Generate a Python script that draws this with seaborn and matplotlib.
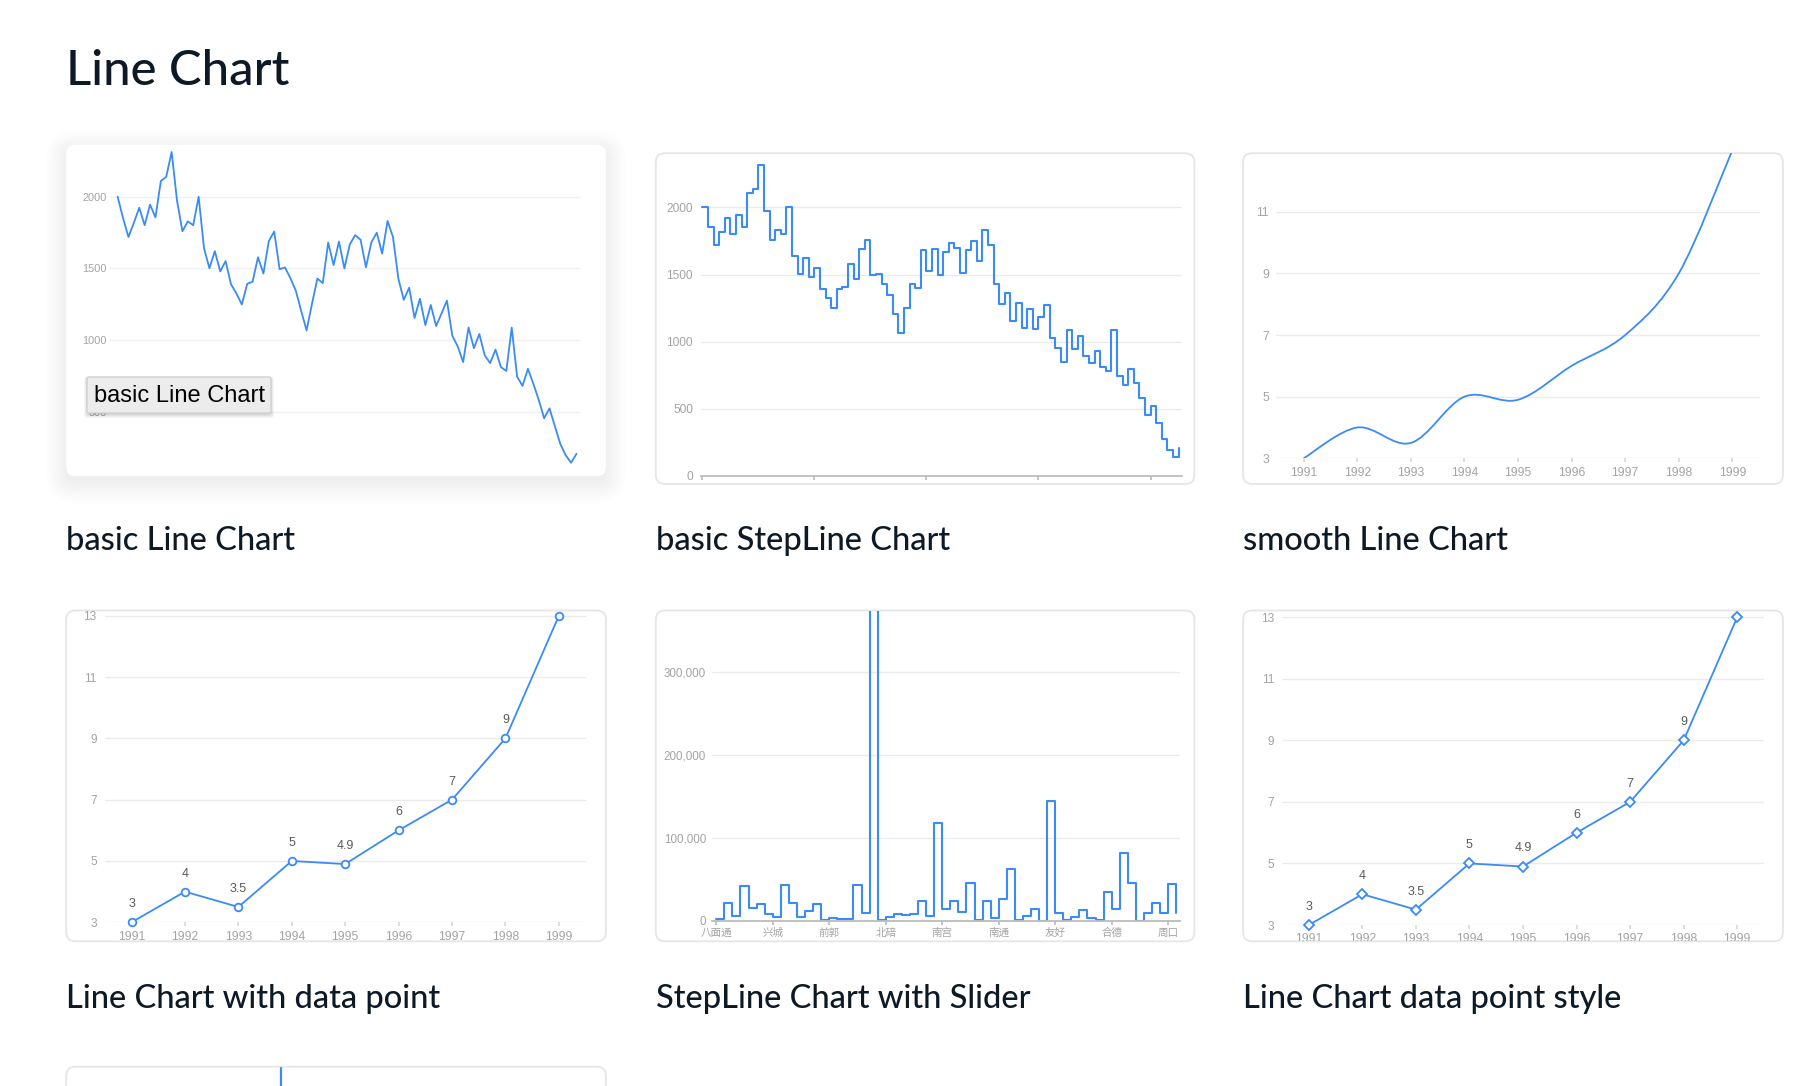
import numpy as np
import pandas as pd
import matplotlib
matplotlib.use("Agg")
import matplotlib.pyplot as plt
import seaborn as sns
from matplotlib.patches import FancyBboxPatch, PathPatch
from matplotlib.path import Path
from matplotlib.transforms import Bbox, TransformedBbox

# ---- data ----
sales = [2000, 1851, 1719, 1818, 1923, 1801, 1945, 1856, 2109, 2139, 2312, 1972, 1759, 1828,
         1801, 2000, 1640, 1501, 1620, 1479, 1551, 1389, 1325, 1248, 1392, 1407, 1578, 1464,
         1690, 1757, 1494, 1506, 1432, 1345, 1203, 1067, 1253, 1429, 1397, 1680, 1523, 1687,
         1499, 1667, 1732, 1700, 1508, 1682, 1749, 1603, 1831, 1719, 1429, 1280, 1365, 1154,
         1288, 1104, 1245, 1097, 1186, 1275, 1030, 955, 846, 1087, 943, 1042, 893, 839, 933,
         811, 784, 1087, 744, 680, 799, 695, 583, 454, 523, 397, 275, 196, 144, 206]

years = [1991, 1992, 1993, 1994, 1995, 1996, 1997, 1998, 1999]
year_values = [3, 4, 3.5, 5, 4.9, 6, 7, 9, 13]

cities = ["八面通", "公主岭", "六安", "兰州", "兰溪", "共青城", "兴义", "兴城", "兴宁", "兴平",
          "内江", "冷水江", "凌海", "凤城", "前郭", "勐海", "包头", "化州", "化德", "北京",
          "北安", "北碚", "北票", "华阴", "华蓥", "南京", "南宁", "南安", "南宫", "南康",
          "南昌", "南江", "南溪", "南漳", "南皮", "南通", "南阳", "南雄", "博乐", "卫辉",
          "即墨", "原平", "友好", "双鸭山", "古交", "台州", "台山", "叶县", "合川", "合德",
          "合肥", "吉林", "吉首", "吐鲁番", "含山", "吴川", "周口", "和田"]
city_values = [2000, 20900, 5600, 42200, 14900, 20500, 8000, 4800, 43000, 20900,
               4400, 11600, 20500, 500, 3600, 1600, 1600, 42600, 8800, 420000,
               300, 4800, 7600, 6400, 8000, 23300, 5600, 117700, 14500, 23700,
               10800, 45800, 400, 23700, 2800, 26100, 61800, 300, 6000, 13700,
               200, 144200, 9200, 400, 4400, 12900, 2800, 800, 34500, 14100,
               81900, 45800, 100, 8800, 21700, 8800, 44600, 9600]

card_titles = ["basic Line Chart", "basic StepLine Chart", "smooth Line Chart",
               "Line Chart with data point", "StepLine Chart with Slider", "Line Chart data point style"]

sales_df = pd.DataFrame({"idx": np.arange(len(sales)), "value": sales})
year_df = pd.DataFrame({"year": years, "value": year_values})
city_df = pd.DataFrame({"idx": np.arange(len(cities)), "city": cities, "value": city_values})

BLUE = "#3a8bf7"
GRID = "#ebebeb"
LABEL = "#a3a3a3"
TITLE = "#0d1a26"

sns.set_theme(style="white")
plt.rcParams["font.family"] = ["Lato", "Noto Sans CJK SC", "DejaVu Sans"]
NUM_FONT = ["Liberation Sans", "Noto Sans CJK SC", "DejaVu Sans"]

W, H = 1820, 1086
fig = plt.figure(figsize=(W / 100, H / 100), dpi=100)
fig.patch.set_facecolor("white")

bg = fig.add_axes([0, 0, 1, 1])
bg.set_xlim(0, W)
bg.set_ylim(H, 0)
bg.axis("off")


def px_axes(x0, y0, x1, y1):
    ax = fig.add_axes([x0 / W, 1 - y1 / H, (x1 - x0) / W, (y1 - y0) / H])
    ax.patch.set_alpha(0)
    for s in ax.spines.values():
        s.set_visible(False)
    return ax


def clip_box(b):
    x0, y0, x1, y1 = b
    return TransformedBbox(Bbox.from_extents(x0 / W, 1 - y1 / H, x1 / W, 1 - y0 / H), fig.transFigure)


def card(x0, y0, x1, y1, border=True):
    p = FancyBboxPatch((x0, y0), x1 - x0, y1 - y0, boxstyle="round,pad=0,rounding_size=9",
                       fc="white", ec="#e6e6e6" if border else "none", lw=1.3, zorder=2)
    bg.add_patch(p)
    return p


def style(ax, fs=8, pad=5):
    ax.grid(axis="y", color=GRID, lw=1)
    ax.grid(axis="x", visible=False)
    ax.tick_params(axis="y", length=0, pad=pad, labelsize=fs, labelcolor=LABEL)
    ax.set_xlabel("")
    ax.set_ylabel("")
    for lbl in ax.get_yticklabels():
        lbl.set_fontfamily(NUM_FONT)


# page title
bg.text(66.2, 84.7, "Line Chart", fontsize=35.3, color=TITLE, fontweight="medium", va="baseline")

# card boxes
boxes = [(66.2, 145, 605.9, 476), (655.8, 153.2, 1194.4, 484), (1243.1, 153.2, 1782.9, 484),
         (66.2, 610.5, 605.9, 941.3), (655.8, 610.5, 1194.4, 941.3), (1243.1, 610.5, 1782.9, 941.3)]

# hover shadow around the first card
x0, y0, x1, y1 = boxes[0]
for i in range(16):
    bg.add_patch(FancyBboxPatch((x0, y0 + 6), x1 - x0, y1 - y0,
                                boxstyle=f"round,pad={i * 1.4},rounding_size={9 + i * 1.4}",
                                fc="#1a2f6e", ec="none", alpha=0.0045, zorder=1))

for i, b in enumerate(boxes):
    card(*b, border=(i != 0))

for i, b in enumerate(boxes):
    base = 550.2 if i < 3 else 1007.5
    bg.text(b[0], base, card_titles[i], fontsize=23.5, color=TITLE, fontweight="medium", va="baseline")

# third-row card, only its top is visible
bg.add_patch(FancyBboxPatch((66.2, 1066.7), 539.7, 60, boxstyle="round,pad=0,rounding_size=9",
                            fc="white", ec="#e6e6e6", lw=1.3, zorder=2))
bg.plot([280.9, 280.9], [1067.5, 1086], color=BLUE, lw=1.6, zorder=3)

# ---- 1. basic line chart ----
ax1 = px_axes(109.5, 145, 579.9, 476)
sns.lineplot(data=sales_df, x="idx", y="value", ax=ax1, color=BLUE, lw=1.3)
ax1.set_xlim(-1.51, 85.63)
ax1.set_ylim(51, 2361)
ax1.set_yticks([500, 1000, 1500, 2000])
ax1.set_xticks([])
style(ax1, fs=7.9, pad=2)
ax1.grid(axis="y", color="#eef0f3", lw=1)

# ---- 2. basic step line ----
ax2 = px_axes(700.6, 153.2, 1181.9, 476)
sns.lineplot(data=sales_df, x="idx", y="value", ax=ax2, color=BLUE, lw=1.5, drawstyle="steps-post")
ax2.set_xlim(-0.32, 85.6)
ax2.set_ylim(0, 2403)
ax2.set_yticks([0, 500, 1000, 1500, 2000])
ax2.set_xticks(sales_df["idx"][::20])
style(ax2, fs=8.6, pad=5.5)
ax2.spines["bottom"].set_visible(True)
ax2.spines["bottom"].set_color("#bcbcbc")
ax2.tick_params(axis="x", length=3, color="#bcbcbc", labelbottom=False, bottom=True)

# ---- 3. smooth line ----
ax3 = px_axes(1276.4, 153.2, 1759.7, 458.3)
pts = np.column_stack([years, year_values]).astype(float)
ext = np.vstack([pts[0], pts, pts[-1]])
verts, codes = [pts[0]], [Path.MOVETO]
for i in range(len(pts) - 1):
    p0, p1, p2, p3 = ext[i], ext[i + 1], ext[i + 2], ext[i + 3]
    verts += [p1 + (p2 - p0) / 6, p2 - (p3 - p1) / 6, p2]
    codes += [Path.CURVE4] * 3
ax3.add_patch(PathPatch(Path(verts, codes), fill=False, ec=BLUE, lw=1.3))
ax3.set_xlim(1990.49, 1999.51)
ax3.set_ylim(3, 12.9)
ax3.set_yticks([3, 5, 7, 9, 11])
ax3.set_xticks(years)
style(ax3, fs=8.7, pad=5.3)
ax3.tick_params(axis="x", length=3, color="#d9d9d9", bottom=True, pad=3,
                labelsize=8.7, labelcolor=LABEL)
for lbl in ax3.get_xticklabels():
    lbl.set_fontfamily(NUM_FONT)


# ---- 4 & 6. line with data points ----
def point_chart(box, card_box, ylim, marker, msize):
    ax = px_axes(*box)
    sns.lineplot(data=year_df, x="year", y="value", ax=ax, color=BLUE, lw=1.3, marker=marker,
                 markersize=msize, markerfacecolor="white", markeredgecolor=BLUE,
                 markeredgewidth=1.3, clip_on=False)
    ax.set_xlim(1990.5, 1999.5)
    ax.set_ylim(*ylim)
    ax.set_yticks([3, 5, 7, 9, 11, 13])
    ax.set_xticks(years)
    style(ax, fs=8.6, pad=5.8)
    ax.tick_params(axis="x", length=3, color="#d9d9d9", bottom=True, pad=3,
                   labelsize=8.7, labelcolor=LABEL)
    cb = clip_box(card_box)
    for lbl in ax.get_xticklabels():
        lbl.set_fontfamily(NUM_FONT)
        lbl.set_clip_box(cb)
        lbl.set_clip_on(True)
    for x, v in zip(years, year_values):
        t = ax.annotate(f"{v:g}", (x, v), xytext=(0, 13), textcoords="offset points",
                        ha="center", va="center", fontsize=9, color="#595959",
                        fontfamily=NUM_FONT, annotation_clip=False)
        t.set_clip_box(cb)
        t.set_clip_on(True)
    return ax


ax4 = point_chart((104.8, 610.5, 585.6, 922.3), boxes[3], (3, 13.17), "o", 5.5)
ax6 = point_chart((1282.0, 610.5, 1764.0, 925), boxes[5], (3, 13.22), "D", 5.5)

# ---- 5. step line with slider ----
ax5 = px_axes(712.0, 610.5, 1180.3, 920.7)
sns.lineplot(data=city_df, x="idx", y="value", ax=ax5, color=BLUE, lw=1.5, drawstyle="steps-post")
ax5.set_xlim(-0.53, 57.5)
ax5.set_ylim(0, 373700)
yt = [0, 100000, 200000, 300000]
ax5.set_yticks(yt)
ax5.set_yticklabels([f"{v:,}" for v in yt])
ax5.set_xticks(city_df["idx"][::7])
ax5.set_xticklabels(city_df["city"][::7], fontfamily=["Noto Sans CJK SC"])
style(ax5, fs=8.4, pad=4.3)
ax5.spines["bottom"].set_visible(True)
ax5.spines["bottom"].set_color("#bcbcbc")
ax5.spines["bottom"].set_linewidth(1.3)
ax5.tick_params(axis="x", length=3, color="#bcbcbc", bottom=True, pad=2,
                labelsize=7.6, labelcolor=LABEL)
cb5 = clip_box(boxes[4])
for lbl in ax5.get_xticklabels():
    lbl.set_clip_box(cb5)
    lbl.set_clip_on(True)

# tooltip over the hovered card
ov = fig.add_axes([0, 0, 1, 1])
ov.set_xlim(0, W)
ov.set_ylim(H, 0)
ov.axis("off")
ov.patch.set_alpha(0)
for i in range(4):
    ov.add_patch(FancyBboxPatch((87, 379), 184, 36, boxstyle=f"round,pad={i},rounding_size=3",
                                fc="black", ec="none", alpha=0.04))
ov.add_patch(FancyBboxPatch((87, 377), 184, 36, boxstyle="round,pad=0,rounding_size=2",
                            fc="#ececec", ec="#cbcbcb", lw=0.8))
ov.text(94.5, 396, "basic Line Chart", fontsize=17, color="black", va="center",
        fontfamily=["Liberation Sans", "DejaVu Sans"])

fig.savefig("out.png", dpi=100, facecolor="white")
